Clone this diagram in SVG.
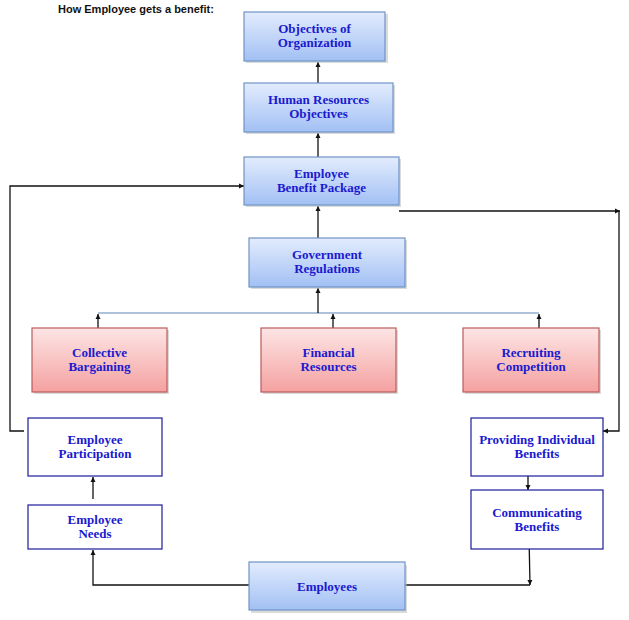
<svg xmlns="http://www.w3.org/2000/svg" width="629" height="620" viewBox="0 0 629 620">
<style>
.t{font-family:"Liberation Serif","Times New Roman",serif;font-weight:bold;font-size:13px;fill:#1a1ad0;text-anchor:middle}
.title{font-family:"Liberation Sans",Arial,sans-serif;font-weight:bold;font-size:11px;fill:#111}
.blue{fill:url(#gb);stroke:#6f93c6;stroke-width:1.2}
.pink{fill:url(#gp);stroke:#b95c5a;stroke-width:1.2}
.white{fill:#fff;stroke:#1c1c9c;stroke-width:1.2}
.sh{fill:#bbb;opacity:0.55}
.c{fill:none;stroke:#111;stroke-width:1.3}
.a{marker-end:url(#ah)}
</style>
<defs>
<linearGradient id="gb" x1="0" y1="0" x2="0" y2="1"><stop offset="0" stop-color="#e3ecfd"/><stop offset="1" stop-color="#a2c0f4"/></linearGradient>
<linearGradient id="gp" x1="0" y1="0" x2="0" y2="1"><stop offset="0" stop-color="#fde5e5"/><stop offset="1" stop-color="#f4a1a0"/></linearGradient>
<marker id="ah" markerUnits="userSpaceOnUse" markerWidth="6" markerHeight="6" refX="5" refY="3" orient="auto"><path d="M0,0.5 L5,3 L0,5.5 z" fill="#111"/></marker>
</defs>
<rect width="629" height="620" fill="#fff"/>
<text class="title" x="58" y="13">How Employee gets a benefit:</text>

<g id="connectors">
<line class="c a" x1="318" y1="83" x2="318" y2="62"/>
<line class="c a" x1="318" y1="157" x2="318" y2="133"/>
<line class="c a" x1="318" y1="238" x2="318" y2="206"/>
<line x1="98" y1="313" x2="539" y2="313" stroke="#5f86b6" stroke-width="1.2"/>
<line class="c a" x1="318" y1="313" x2="318" y2="288"/>
<line class="c a" x1="98" y1="328" x2="98" y2="314"/>
<line class="c a" x1="333" y1="328" x2="333" y2="314"/>
<line class="c a" x1="539" y1="328" x2="539" y2="314"/>
<polyline class="c a" points="24,431 10,431 10,186 244,186"/>
<line class="c a" x1="399" y1="211" x2="620" y2="211"/>
<polyline class="c a" points="619,211 619,431 603,431"/>
<line class="c a" x1="93" y1="499" x2="93" y2="477"/>
<polyline class="c a" points="249,585 93,585 93,550"/>
<line class="c a" x1="528" y1="476" x2="528" y2="490"/>
<line class="c" x1="405" y1="585" x2="530" y2="585"/>
<line class="c a" x1="529" y1="536" x2="530" y2="585"/>
</g>

<g id="obj-org"><rect class="sh" x="246" y="14" width="142" height="49"/><rect class="blue" x="244" y="12" width="141" height="49"/><text class="t" x="314.5" y="33">Objectives of</text><text class="t" x="314.5" y="47">Organization</text></g>
<g id="hr-obj"><rect class="sh" x="246" y="85" width="149" height="49"/><rect class="blue" x="244" y="83" width="149" height="49"/><text class="t" x="318.5" y="104">Human Resources</text><text class="t" x="318.5" y="118">Objectives</text></g>
<g id="ebp"><rect class="sh" x="246" y="159" width="155" height="48"/><rect class="blue" x="244" y="157" width="155" height="48"/><text class="t" x="321.5" y="178">Employee</text><text class="t" x="321.5" y="192">Benefit Package</text></g>
<g id="gov"><rect class="sh" x="251" y="240" width="156" height="49"/><rect class="blue" x="249" y="238" width="156" height="49"/><text class="t" x="327" y="259">Government</text><text class="t" x="327" y="273">Regulations</text></g>
<g id="collective"><rect class="sh" x="34" y="330" width="135" height="64"/><rect class="pink" x="32" y="328" width="135" height="64"/><text class="t" x="99.5" y="357">Collective</text><text class="t" x="99.5" y="371">Bargaining</text></g>
<g id="financial"><rect class="sh" x="263" y="330" width="135" height="64"/><rect class="pink" x="261" y="328" width="135" height="64"/><text class="t" x="328.5" y="357">Financial</text><text class="t" x="328.5" y="371">Resources</text></g>
<g id="recruiting"><rect class="sh" x="465" y="330" width="136" height="64"/><rect class="pink" x="463" y="328" width="136" height="64"/><text class="t" x="531" y="357">Recruiting</text><text class="t" x="531" y="371">Competition</text></g>
<g id="participation"><rect class="white" x="28" y="418" width="134" height="58"/><text class="t" x="95" y="444">Employee</text><text class="t" x="95" y="458">Participation</text></g>
<g id="needs"><rect class="white" x="28" y="505" width="134" height="44"/><text class="t" x="95" y="524">Employee</text><text class="t" x="95" y="538">Needs</text></g>
<g id="providing"><rect class="white" x="471" y="418" width="132" height="58"/><text class="t" x="537" y="444">Providing Individual</text><text class="t" x="537" y="458">Benefits</text></g>
<g id="communicating"><rect class="white" x="471" y="490" width="132" height="59"/><text class="t" x="537" y="517">Communicating</text><text class="t" x="537" y="531">Benefits</text></g>
<g id="employees"><rect class="sh" x="251" y="565" width="156" height="48"/><rect class="blue" x="249" y="562" width="156" height="48"/><text class="t" x="327" y="591">Employees</text></g>
</svg>
